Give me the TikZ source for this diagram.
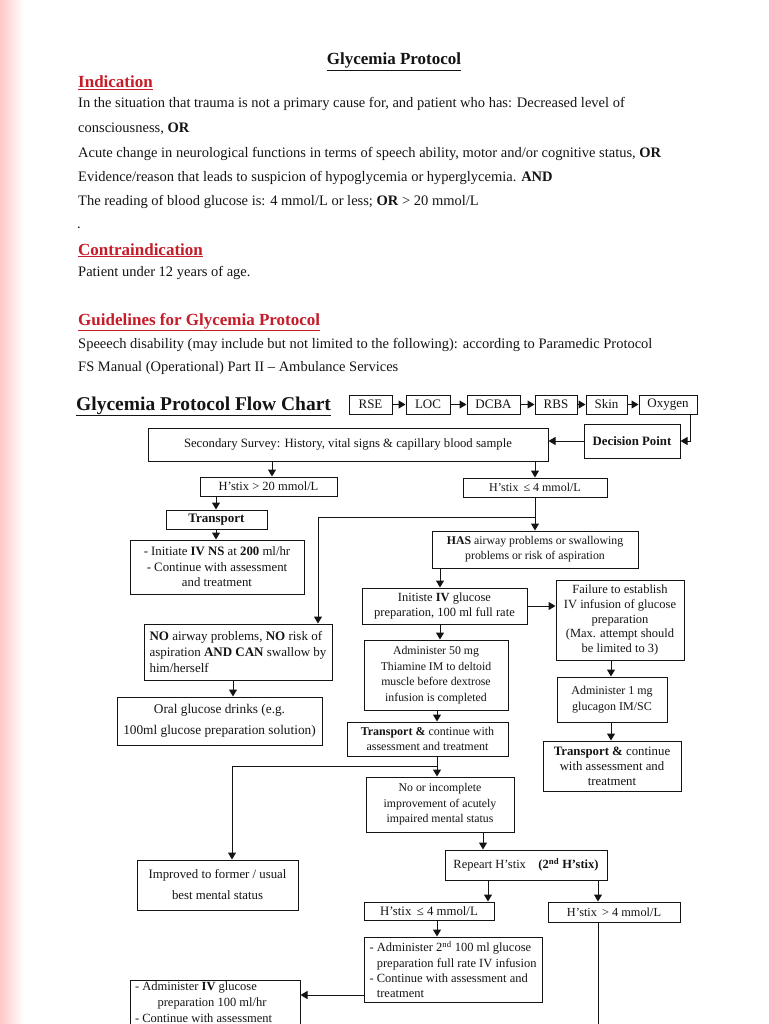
\documentclass[tikz,border=0pt]{standalone}
\usepackage{fontspec}
\setmainfont{Liberation Serif}
\usetikzlibrary{arrows.meta,calc}
\definecolor{hred}{RGB}{196,28,40}
\definecolor{ink}{RGB}{20,20,20}
\newcommand\mkbox[7][]{%
  \pgfmathsetmacro\bw{#5-#3}\pgfmathsetmacro\bh{#6-#4}%
  \pgfmathsetmacro\bcx{(#3+#5)/2}\pgfmathsetmacro\bcy{(#4+#6)/2}%
  \node[box,minimum width=\bw pt,minimum height=\bh pt,#1] (#2) at (\bcx,\bcy) {#7};}
\newcommand\fs[2]{\fontsize{#1}{#2}\selectfont}
\begin{document}
\begin{tikzpicture}[x=1pt,y=-1pt,
 box/.style={draw=ink,line width=1pt,inner sep=1pt,align=center,font=\fs{11.5}{14.5},text=ink},
 arr/.style={draw=ink,line width=1pt,-{Triangle[length=7pt,width=8pt]}},
 ln/.style={draw=ink,line width=1pt},
 body/.style={anchor=base west,inner sep=0,font=\fs{14.5}{17},text=ink},
 head/.style={anchor=base west,inner sep=0,font=\fs{17}{19}\bfseries,text=hred}]
\useasboundingbox (0,0) rectangle (768,1024);
\clip (0,0) rectangle (768,1024);
\fill[white] (0,0) rectangle (768,1024);
\shade[left color=red!22, right color=white] (0,0) rectangle (24,1024);

\node[anchor=base,inner sep=0,font=\fs{17}{19}\bfseries,text=ink] (title) at (394,65) {\underline{Glycemia Protocol}};
\node[head] (ind) at (78,88) {\underline{Indication}};
\node[body] (l1) at (78,108) {In the situation that trauma is not a primary cause for, and patient who has: Decreased level of};
\node[body] (l2) at (78,133) {consciousness, \textbf{OR}};
\node[body] (l3) at (78,158) {Acute change in neurological functions in terms of speech ability, motor and/or cognitive status, \textbf{OR}};
\node[body] (l4) at (78,182) {Evidence/reason that leads to suspicion of hypoglycemia or hyperglycemia. \textbf{AND}};
\node[body] (l5) at (78,206) {The reading of blood glucose is: 4 mmol/L or less; \textbf{OR} > 20 mmol/L};
\node[body] (dot) at (77,229) {.};
\node[head] (contra) at (78,255) {\underline{Contraindication}};
\node[body] (c1) at (78,276) {Patient under 12 years of age.};
\node[head] (guide) at (78,325) {\underline{Guidelines for Glycemia Protocol}};
\node[body] (g1) at (78,348) {Speeech disability (may include but not limited to the following): according to Paramedic Protocol};
\node[body] (g2) at (78,371) {FS Manual (Operational) Part II -- Ambulance Services};
\node[anchor=base west,inner sep=0,font=\fs{19.5}{21}\bfseries,text=ink] (fct) at (76,410) {\underline{Glycemia Protocol Flow Chart}};

% x reference coordinates
\foreach \xv in {216,232,233,272,318,437,440,483,488,535,598,611,690}{\coordinate (x\xv) at (\xv,0);}
\coordinate (y995) at (0,995);
\coordinate (bot) at (0,1030);

% chain
\tikzset{chain/.style={font=\fs{13}{15}}}
\mkbox[chain]{rse}{349}{395}{392}{414}{RSE}
\mkbox[chain]{loc}{406}{395}{450}{414}{LOC}
\mkbox[chain]{dcba}{467}{395}{520}{414}{DCBA}
\mkbox[chain]{rbs}{535}{395}{577}{414}{RBS}
\mkbox[chain]{skin}{586}{395}{627}{414}{Skin}
\mkbox[chain]{oxy}{639}{395}{697}{414}{Oxygen}
\draw[arr] (rse.east) -- (loc.west);
\draw[arr] (loc.east) -- (dcba.west);
\draw[arr] (dcba.east) -- (rbs.west);
\draw[arr] (rbs.east) -- (skin.west);
\draw[arr] (skin.east) -- (oxy.west);

\mkbox[font=\fs{12.8}{14}\bfseries]{dec}{584}{424}{680}{458}{Decision Point}
\mkbox[font=\fs{12.7}{15}]{ssurv}{148}{428}{548}{461}{Secondary Survey: History, vital signs \& capillary blood sample}
\draw[arr] (x690 |- oxy.south) |- (dec.east);
\draw[arr] (dec.west) -- (dec.west -| ssurv.east);

\mkbox[font=\fs{12.5}{15}]{hs20}{200}{477}{337}{496}{H'stix > 20 mmol/L}
\mkbox[font=\fs{12}{15}]{hs4}{463}{478}{607}{497}{H'stix\, ≤ 4 mmol/L}
\draw[arr] (x272 |- ssurv.south) -- (x272 |- hs20.north);
\draw[arr] (x535 |- ssurv.south) -- (x535 |- hs4.north);

\mkbox[font=\fs{13}{15}\bfseries]{trans}{166}{510}{267}{529}{Transport}
\mkbox[font=\fs{12.8}{15.5}]{ivns}{130}{540}{304}{594}{- Initiate \textbf{IV NS} at \textbf{200} ml/hr\\- Continue with assessment\\and treatment}
\draw[arr] (x216 |- hs20.south) -- (x216 |- trans.north);
\draw[arr] (x216 |- trans.south) -- (x216 |- ivns.north);

\mkbox[font=\fs{11.8}{15}]{has}{432}{531}{638}{568}{\textbf{HAS} airway problems or swallowing\\problems or risk of aspiration}
\mkbox[align=left,font=\fs{13}{16}]{noair}{144}{624}{332}{680}{\textbf{NO} airway problems, \textbf{NO} risk of\\aspiration \textbf{AND CAN} swallow by\\him/herself}
\mkbox[font=\fs{13.3}{21}]{oral}{117}{697}{322}{745}{Oral glucose drinks (e.g.\\100ml glucose preparation solution)}
\coordinate (j1) at (535,517);
\draw[ln] (x535 |- hs4.south) -- (j1);
\draw[arr] (j1) -- (j1 |- has.north);
\draw[arr] (j1) -| (x318 |- noair.north);
\draw[arr] (x233 |- noair.south) -- (x233 |- oral.north);

\mkbox[font=\fs{12.5}{15.5}]{ivg}{362}{588}{527}{624}{Initiste \textbf{IV} glucose\\preparation, 100 ml full rate}
\mkbox[font=\fs{12.5}{14.8}]{fail}{556}{580}{684}{660}{Failure to establish\\IV infusion of glucose\\preparation\\(Max. attempt should\\be limited to 3)}
\mkbox[font=\fs{11.8}{15.5}]{thia}{364}{640}{508}{710}{Administer 50 mg\\Thiamine IM to deltoid\\muscle before dextrose\\infusion is completed}
\mkbox[font=\fs{12}{14.5}]{trc}{347}{722}{508}{756}{\textbf{Transport \&} continue with\\assessment and treatment}
\mkbox[font=\fs{12}{15.5}]{glu}{557}{677}{667}{722}{Administer 1 mg\\glucagon IM/SC}
\mkbox[font=\fs{12.8}{15}]{trc2}{543}{741}{681}{791}{\textbf{Transport \&} continue\\with assessment and\\treatment}
\draw[arr] (x440 |- has.south) -- (x440 |- ivg.north);
\draw[arr] (ivg.east) -- (ivg.east -| fail.west);
\draw[arr] (x440 |- ivg.south) -- (x440 |- thia.north);
\draw[arr] (x437 |- thia.south) -- (x437 |- trc.north);
\draw[arr] (x611 |- fail.south) -- (x611 |- glu.north);
\draw[arr] (x611 |- glu.south) -- (x611 |- trc2.north);

\mkbox[font=\fs{11.8}{15.5}]{noinc}{366}{777}{514}{832}{No or incomplete\\improvement of acutely\\impaired mental status}
\mkbox[font=\fs{12.8}{21}]{impr}{137}{860}{298}{910}{Improved to former / usual\\best mental status}
\coordinate (j2) at (437,766);
\draw[ln] (x437 |- trc.south) -- (j2);
\draw[arr] (j2) -- (j2 |- noinc.north);
\draw[arr] (j2) -| (x232 |- impr.north);

\mkbox[font=\fs{12.5}{15}]{rep}{445}{850}{607}{880}{Repeart H'stix\quad \textbf{(2\textsuperscript{nd} H'stix)}}
\mkbox[font=\fs{12.8}{15}]{hs4b}{364}{902}{494}{920}{H'stix\, ≤ 4 mmol/L}
\mkbox[font=\fs{12.3}{15}]{hsg4}{548}{902}{680}{922}{H'stix\, > 4 mmol/L}
\draw[arr] (x483 |- noinc.south) -- (x483 |- rep.north);
\draw[arr] (x488 |- rep.south) -- (x488 |- hs4b.north);
\draw[arr] (x598 |- rep.south) -- (x598 |- hsg4.north);

\mkbox[align=left,font=\fs{12.5}{15.3}]{adm2}{364}{937}{542}{1002}{- Administer 2\textsuperscript{nd} 100 ml glucose\\\phantom{- }preparation full rate IV infusion\\- Continue with assessment and\\\phantom{- }treatment}
\draw[arr] (x437 |- hs4b.south) -- (x437 |- adm2.north);
\mkbox{last}{130}{980}{300}{1060}{}
\node[box,draw=none,anchor=north west,align=left,font=\fs{12.5}{16}] (lasttxt) at ($(last.north west)+(4,1)$) {- Administer \textbf{IV} glucose\\\phantom{- Ad}preparation 100 ml/hr\\- Continue with assessment};
\draw[arr] (adm2.west |- y995) -- (last.east |- y995);
\draw[ln] (x598 |- hsg4.south) -- (x598 |- bot);
\end{tikzpicture}
\end{document}
